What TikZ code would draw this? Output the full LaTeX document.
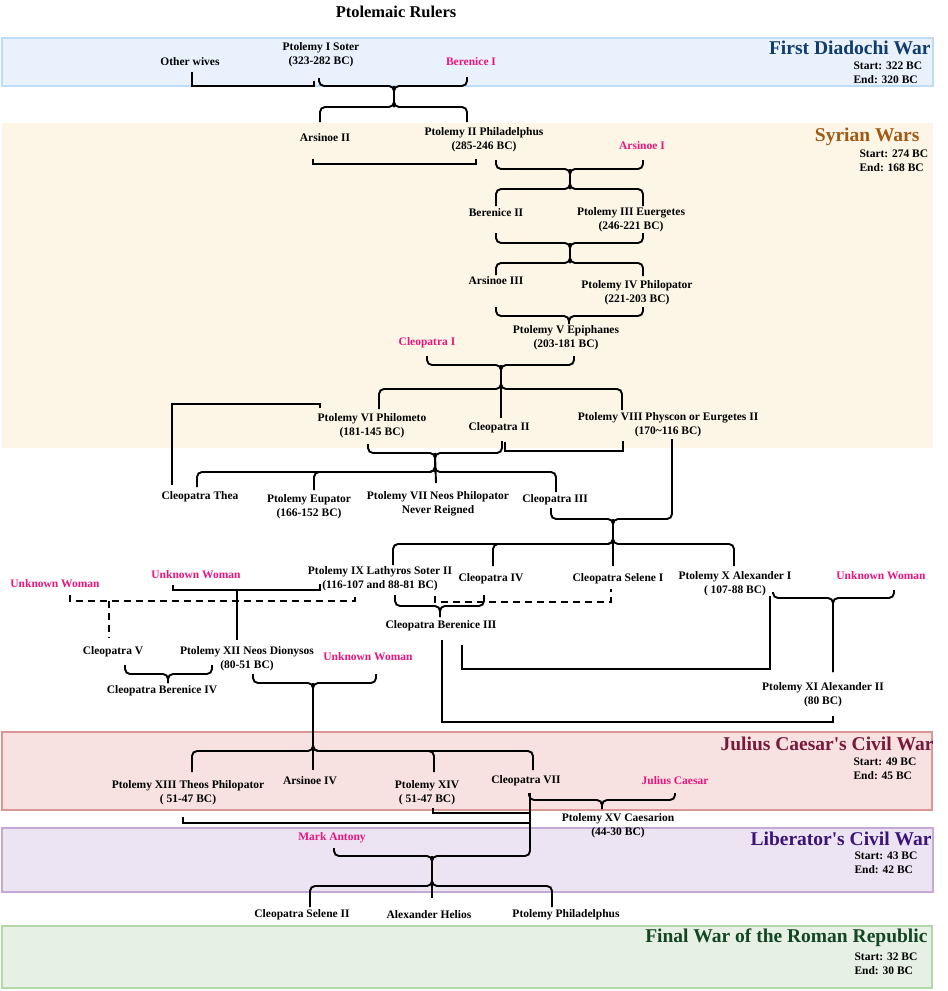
\documentclass[tikz,border=0pt]{standalone}
\usepackage{fontspec}
\setmainfont{Liberation Serif}
\usepackage{xcolor}
\definecolor{wifepink}{RGB}{235, 20, 125}
\definecolor{diadfill}{RGB}{232, 241, 252}
\definecolor{diadline}{RGB}{190, 220, 248}
\definecolor{diadblue}{RGB}{16, 60, 110}
\definecolor{syriafill}{RGB}{253, 246, 230}
\definecolor{syriabrown}{RGB}{160, 90, 20}
\definecolor{caesarfill}{RGB}{248, 225, 225}
\definecolor{caesarline}{RGB}{220, 150, 150}
\definecolor{caesarred}{RGB}{120, 25, 60}
\definecolor{liberfill}{RGB}{236, 228, 242}
\definecolor{liberline}{RGB}{195, 170, 212}
\definecolor{liberpurple}{RGB}{60, 20, 120}
\definecolor{finalfill}{RGB}{230, 240, 228}
\definecolor{finalline}{RGB}{180, 215, 170}
\definecolor{finalgreen}{RGB}{20, 70, 35}
\newcommand{\personfont}{\fontsize{11.5}{14}\selectfont\bfseries}
\newcommand{\warfont}{\fontsize{19.5}{22}\selectfont\bfseries}

\begin{document}
\begin{tikzpicture}[x=1pt, y=-1pt,
    person/.style={font=\personfont, align=center, inner sep=0pt},
    spouse/.style={person, text=wifepink},
    link/.style={line width=1.9pt, rounded corners=5pt},
    marriage/.style={line width=1.9pt},
    affair/.style={marriage, dash pattern=on 7pt off 5pt},
    band/.style={line width=1.8pt},
    war/.style={anchor=east, font=\warfont},
    dates/.style={anchor=west, align=left, font=\personfont}]
  \useasboundingbox (0,0) rectangle (948,991);

  % war bands
  \filldraw[band, fill=diadfill, draw=diadline] (2,38) rectangle (933,86);
  \fill[syriafill] (2,123) rectangle (933,448);
  \filldraw[band, fill=caesarfill, draw=caesarline] (2,732) rectangle (932,810);
  \filldraw[band, fill=liberfill, draw=liberline] (2,828) rectangle (933,892);
  \filldraw[band, fill=finalfill, draw=finalline] (2,926) rectangle (932,988);

  \node[font=\fontsize{16.5}{20}\selectfont\bfseries] (title) at (396,12) {Ptolemaic Rulers};

  \node[war, text=diadblue]    (diad)  at (934,48)  {First Diadochi War};
  \node[dates] (diaddates)  at (850,73)    {Start: 322 BC\\End: 320 BC};
  \node[war, text=syriabrown]  (syria) at (923,137) {Syrian Wars};
  \node[dates] (syriadates) at (856,160.5) {Start: 274 BC\\End: 168 BC};
  \node[war, text=caesarred]   (civil) at (937,744) {Julius Caesar\textquotesingle s Civil War};
  \node[dates] (civildates) at (850,768.5) {Start: 49 BC\\End: 45 BC};
  \node[war, text=liberpurple] (liber) at (935,839) {Liberator\textquotesingle s Civil War};
  \node[dates] (liberdates) at (851,862.5) {Start: 43 BC\\End: 42 BC};
  \node[war, text=finalgreen]  (final) at (931,938) {Final War of the Roman Republic};
  \node[dates] (finaldates) at (851,963.5) {Start: 32 BC\\End: 30 BC};

  % people
  \node[person] (otherw)  at (190,62)    {Other wives};
  \node[person] (soter)   at (321,55)    {Ptolemy I Soter\\(323-282 BC)};
  \node[spouse] (bereI)   at (471,62)    {Berenice I};
  \node[person] (arsII)   at (325,138)   {Arsinoe II};
  \node[person] (ptolII)  at (484,139.5) {Ptolemy II Philadelphus\\(285-246 BC)};
  \node[spouse] (arsI)    at (642,146)   {Arsinoe I};
  \node[person] (bereII)  at (496,213)   {Berenice II};
  \node[person] (ptolIII) at (631,220)   {Ptolemy III Euergetes\\(246-221 BC)};
  \node[person] (arsIII)  at (496,281)   {Arsinoe III};
  \node[person] (ptolIV)  at (637,293)   {Ptolemy IV Philopator\\(221-203 BC)};
  \node[person] (ptolV)   at (566,337.5) {Ptolemy V Epiphanes\\(203-181 BC)};
  \node[spouse] (cleoI)   at (427,343)   {Cleopatra I};
  \node[person] (ptolVI)  at (372,425.5) {Ptolemy VI Philometo\\(181-145 BC)};
  \node[person] (cleoII)  at (499,428)   {Cleopatra II};
  \node[person] (ptolVIII) at (668,425)  {Ptolemy VIII Physcon or Eurgetes II\\(170\textasciitilde116 BC)};
  \node[person] (thea)    at (200,497)   {Cleopatra Thea};
  \node[person] (eupator) at (309,507)   {Ptolemy Eupator\\(166-152 BC)};
  \node[person] (ptolVII) at (438,503.5) {Ptolemy VII Neos Philopator\\Never Reigned};
  \node[person] (cleoIII) at (555,500)   {Cleopatra III};
  \node[person] (ptolIX)  at (380,579)   {Ptolemy IX Lathyros Soter II\\(116-107 and 88-81 BC)};
  \node[person] (cleoIV)  at (491,579)   {Cleopatra IV};
  \node[person] (seleneI) at (618,579)   {Cleopatra Selene I};
  \node[person] (ptolX)   at (735,583.5) {Ptolemy X Alexander I\\( 107-88 BC)};
  \node[spouse] (unkA)    at (55,584)    {Unknown Woman};
  \node[spouse] (unkB)    at (196,575)   {Unknown Woman};
  \node[spouse] (unkC)    at (368,657)   {Unknown Woman};
  \node[spouse] (unkD)    at (881,576)   {Unknown Woman};
  \node[person] (bereIII) at (441,626)   {Cleopatra Berenice III};
  \node[person] (cleoV)   at (113,652)   {Cleopatra V};
  \node[person] (ptolXII) at (247,659)   {Ptolemy XII Neos Dionysos\\(80-51 BC)};
  \node[person] (bereIV)  at (162,691)   {Cleopatra Berenice IV};
  \node[person] (ptolXI)  at (823,695)   {Ptolemy XI Alexander II\\(80 BC)};
  \node[person] (ptolXIII) at (188,793)  {Ptolemy XIII Theos Philopator\\( 51-47 BC)};
  \node[person] (arsIV)   at (310,781)   {Arsinoe IV};
  \node[person] (ptolXIV) at (427,793)   {Ptolemy XIV\\( 51-47 BC)};
  \node[person] (cleoVII) at (526,781)   {Cleopatra VII};
  \node[spouse] (caesar)  at (675,781)   {Julius Caesar};
  \node[person] (caesarion) at (618,826) {Ptolemy XV Caesarion\\(44-30 BC)};
  \node[spouse] (antony)  at (332,838)   {Mark Antony};
  \node[person] (seleneII) at (302,915)  {Cleopatra Selene II};
  \node[person] (helios)  at (429,915)   {Alexander Helios};
  \node[person] (philad)  at (566,915)   {Ptolemy Philadelphus};

  % family joints
  \coordinate (f1p) at (394,86);   \coordinate (f1c) at (394,107);
  \coordinate (f2p) at (570,169);  \coordinate (f2c) at (570,189);
  \coordinate (f3p) at (570,243);  \coordinate (f3c) at (570,263);
  \coordinate (f4p) at (569,316);
  \coordinate (f5p) at (501,365);  \coordinate (f5c) at (501,389);
  \coordinate (f6p) at (435,453);  \coordinate (f6c) at (435,472);
  \coordinate (f7p) at (613,519);  \coordinate (f7c) at (613,544);
  \coordinate (f8)  at (237,590);
  \coordinate (f9)  at (109,601);
  \coordinate (f10p) at (440,606);
  \coordinate (f11p) at (833,598);
  \coordinate (f12p) at (168,674);
  \coordinate (f13p) at (313,683); \coordinate (f13c) at (313,751);
  \coordinate (f14p) at (602,800);
  \coordinate (f15p) at (432,856); \coordinate (f15c) at (432,886);

  % Soter and his wives
  \draw[marriage] ([shift={(2,10)}]otherw.center) |- ([shift={(-7,31)}]soter.center) -- ([shift={(-7,26)}]soter.center);
  \draw[link] ([shift={(-2,23)}]soter.center) |- (f1p) -- (f1c);
  \draw[link] ([shift={(-4,15)}]bereI.center) |- (f1p) -- (f1c);
  \draw[link] (f1p) -- (f1c) -| ([shift={(-5,-16)}]arsII.center);
  \draw[link] (f1p) -- (f1c) -| ([shift={(-17,-17.5)}]ptolII.center);

  % Syrian wars line
  \draw[marriage] ([shift={(-12,21)}]arsII.center) |- ([shift={(-8,24.5)}]ptolII.center) -- ([shift={(-8,19.5)}]ptolII.center);
  \draw[link] ([shift={(12,20.5)}]ptolII.center) |- (f2p) -- (f2c);
  \draw[link] ([shift={(1,14)}]arsI.center) |- (f2p) -- (f2c);
  \draw[link] (f2p) -- (f2c) -| ([shift={(0,-7)}]bereII.center);
  \draw[link] (f2p) -- (f2c) -| ([shift={(12,-14)}]ptolIII.center);

  \draw[link] ([shift={(0,20)}]bereII.center) |- (f3p) -- (f3c);
  \draw[link] ([shift={(12,13)}]ptolIII.center) |- (f3p) -- (f3c);
  \draw[link] (f3p) -- (f3c) -| ([shift={(0,-6)}]arsIII.center);
  \draw[link] (f3p) -- (f3c) -| ([shift={(6,-17)}]ptolIV.center);

  \draw[link] ([shift={(0,26)}]arsIII.center) |- (f4p) -- ([shift={(3,-13.5)}]ptolV.center);
  \draw[link] ([shift={(6,14)}]ptolIV.center) |- (f4p) -- ([shift={(3,-13.5)}]ptolV.center);

  \draw[link] ([shift={(0,13)}]cleoI.center) |- (f5p) -- (f5c);
  \draw[link] ([shift={(8,18.5)}]ptolV.center) |- (f5p) -- (f5c);
  \draw[link] (f5p) -- (f5c) -| ([shift={(7,-16.5)}]ptolVI.center);
  \draw[link] (f5p) -- ([shift={(2,-10)}]cleoII.center);
  \draw[link] (f5p) -- (f5c) -| ([shift={(-46,-15)}]ptolVIII.center);

  % children of Ptolemy VI and Cleopatra II
  \draw[marriage] ([shift={(-52,-17.5)}]ptolVI.center) -- ++(0,-4) -| ([shift={(-28,-12)}]thea.center);
  \draw[link] ([shift={(-4,18.5)}]ptolVI.center) |- (f6p) -- (f6c);
  \draw[link] ([shift={(3,13)}]cleoII.center) |- (f6p) -- (f6c);
  \draw[link] (f6p) -- (f6c) -| ([shift={(-3,-10)}]thea.center);
  \draw[link] (f6p) -- (f6c) -| ([shift={(5,-17)}]eupator.center);
  \draw[link] (f6p) -- ([shift={(-2,-20.5)}]ptolVII.center);
  \draw[link] (f6p) -- (f6c) -| ([shift={(1,-8)}]cleoIII.center);
  \draw[marriage] ([shift={(6,14)}]cleoII.center) |- ([shift={(-45,26)}]ptolVIII.center) -- ([shift={(-45,16)}]ptolVIII.center);

  % children of Ptolemy VIII and Cleopatra III
  \draw[link] ([shift={(-4,8)}]cleoIII.center) |- (f7p) -- (f7c);
  \draw[link] ([shift={(4,14)}]ptolVIII.center) |- (f7p) -- (f7c);
  \draw[link] (f7p) -- (f7c) -| ([shift={(13,-14)}]ptolIX.center);
  \draw[link] (f7p) -- (f7c) -| ([shift={(2,-13)}]cleoIV.center);
  \draw[link] (f7p) -- ([shift={(-5,-13)}]seleneI.center);
  \draw[link] (f7p) -- (f7c) -| ([shift={(-1,-17.5)}]ptolX.center);

  % Ptolemy IX and his partners
  \draw[marriage] ([shift={(-23,10)}]unkB.center) |- ([shift={(-60,11)}]ptolIX.center) -- ([shift={(-60,5)}]ptolIX.center);
  \draw[marriage] (f8) -- ([shift={(-10,-19)}]ptolXII.center);
  \draw[affair] ([shift={(15,11)}]unkA.center) |- ([shift={(-25,22)}]ptolIX.center) -- ([shift={(-25,16)}]ptolIX.center);
  \draw[affair] (f9) -- ([shift={(-4,-14)}]cleoV.center);
  \draw[affair] ([shift={(55,17)}]ptolIX.center) |- ([shift={(-7,23)}]seleneI.center) -- ([shift={(-7,10)}]seleneI.center);
  \draw[link] ([shift={(15,16)}]ptolIX.center) |- (f10p) -- ([shift={(-1,-9)}]bereIII.center);
  \draw[link] ([shift={(-7,16)}]cleoIV.center) |- (f10p) -- ([shift={(-1,-9)}]bereIII.center);

  % Berenice III, Ptolemy X and Ptolemy XI
  \draw[marriage] ([shift={(1,14)}]bereIII.center) |- ([shift={(10,27)}]ptolXI.center) -- ([shift={(10,21)}]ptolXI.center);
  \draw[marriage] ([shift={(21,19)}]bereIII.center) |- ([shift={(35,85.5)}]ptolX.center) -- ([shift={(35,12.5)}]ptolX.center);
  \draw[link] ([shift={(38,8.5)}]ptolX.center) |- (f11p) -- ([shift={(10,-23)}]ptolXI.center);
  \draw[link] ([shift={(13,14)}]unkD.center) |- (f11p) -- ([shift={(10,-23)}]ptolXI.center);

  % Ptolemy XII
  \draw[link] ([shift={(12,13)}]cleoV.center) |- (f12p) -- ([shift={(6,-8)}]bereIV.center);
  \draw[link] ([shift={(-35,6)}]ptolXII.center) |- (f12p) -- ([shift={(6,-8)}]bereIV.center);
  \draw[link] ([shift={(6,15)}]ptolXII.center) |- (f13p) -- (f13c);
  \draw[link] ([shift={(8,17)}]unkC.center) |- (f13p) -- (f13c);
  \draw[link] (f13p) -- (f13c) -| ([shift={(4,-21)}]ptolXIII.center);
  \draw[link] (f13p) -- ([shift={(3,-11)}]arsIV.center);
  \draw[link] (f13p) -- (f13c) -| ([shift={(7,-21)}]ptolXIV.center);
  \draw[link] (f13p) -- (f13c) -| ([shift={(7,-11)}]cleoVII.center);

  % Cleopatra VII
  \draw[marriage] ([shift={(-5,24)}]ptolXIII.center) |- ([shift={(4,42)}]cleoVII.center);
  \draw[marriage] ([shift={(6,15)}]ptolXIV.center) |- ([shift={(4,32)}]cleoVII.center);
  \draw[link] ([shift={(3,12)}]cleoVII.center) |- (f14p) -- ([shift={(-16,-17)}]caesarion.center);
  \draw[link] ([shift={(0,12)}]caesar.center) |- (f14p) -- ([shift={(-16,-17)}]caesarion.center);
  \draw[link] ([shift={(2,10)}]antony.center) |- (f15p) -- (f15c);
  \draw[link] ([shift={(4,12)}]cleoVII.center) |- (f15p) -- (f15c);
  \draw[link] (f15p) -- (f15c) -| ([shift={(8,-8)}]seleneII.center);
  \draw[link] (f15p) -- ([shift={(3,-17)}]helios.center);
  \draw[link] (f15p) -- (f15c) -| ([shift={(-14,-8)}]philad.center);
\end{tikzpicture}
\end{document}
